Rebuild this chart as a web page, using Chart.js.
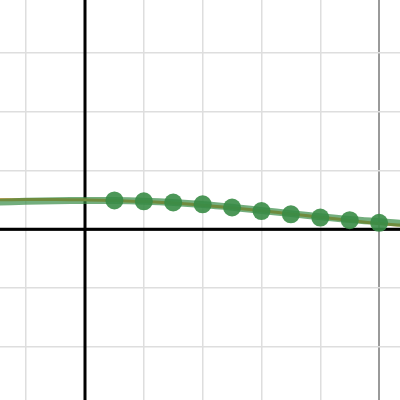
<!DOCTYPE html>
<html>
<head>
<meta charset="utf-8">
<script src="https://cdn.jsdelivr.net/npm/chart.js@4/dist/chart.umd.min.js"></script>
<style>
  html, body { margin: 0; padding: 0; background: #fff; }
  #wrap { width: 400px; height: 400px; position: relative; }
</style>
</head>
<body>
<div id="wrap"><canvas id="grafica"></canvas></div>
<script>
// Datos
const pointX = [0.5, 1, 1.5, 2, 2.5, 3, 3.5, 4, 4.5, 5]
const pointY = [0.49, 0.475, 0.455, 0.425, 0.37, 0.31, 0.255, 0.2, 0.155, 0.11]

const curveX = [-1.5, -1, -0.5, 0, 0.5, 1, 1.5, 2, 2.5, 3, 3.5, 4, 4.5, 5, 5.5]
const fitY   = [0.46, 0.476, 0.486, 0.49, 0.488, 0.476, 0.454, 0.42, 0.374, 0.32, 0.266, 0.214, 0.168, 0.13, 0.094]
const trueY  = [0.5, 0.505, 0.505, 0.5, 0.49, 0.47, 0.445, 0.41, 0.365, 0.315, 0.26, 0.205, 0.15, 0.1, 0.06]

const xRange = [-1.445, 5.355]
const yRange = [-2.9, 3.895]

const COLORS = {
  green:  'rgba(56, 140, 70, 0.7)',
  greenPt:'rgba(56, 140, 70, 0.9)',
  orange: '#f08a2c',
  grid:   '#dedede',
  mark5:  '#9a9a9a',
}

function pares(xs, ys) {
  return xs.map(function(x, i) { return { x: x, y: ys[i] } })
}

// ejes en negro encima de la cuadricula
const ejes = {
  id: 'ejes',
  beforeDatasetsDraw(chart) {
    const { ctx, chartArea: a, scales: { x, y } } = chart
    ctx.save()
    ctx.strokeStyle = '#000'
    ctx.lineWidth = 3
    ctx.beginPath()
    const px = x.getPixelForValue(0)
    const py = y.getPixelForValue(0)
    ctx.moveTo(px, a.top); ctx.lineTo(px, a.bottom)
    ctx.moveTo(a.left, py); ctx.lineTo(a.right, py)
    ctx.stroke()
    ctx.restore()
  }
}

function gridColor(ctx) {
  if (ctx.tick.value === 0) return '#000'
  if (ctx.tick.value === 5 && ctx.scale.axis === 'x') return COLORS.mark5
  return COLORS.grid
}

new Chart(document.getElementById('grafica'), {
  type: 'scatter',
  data: {
    datasets: [
      {
        data: pares(curveX, trueY),
        showLine: true,
        borderColor: COLORS.orange,
        borderWidth: 3,
        pointRadius: 0,
        tension: 0.4,
        order: 3,
      },
      {
        data: pares(curveX, fitY),
        showLine: true,
        borderColor: COLORS.green,
        borderWidth: 7,
        pointRadius: 0,
        tension: 0.4,
        order: 2,
      },
      {
        data: pares(pointX, pointY),
        backgroundColor: COLORS.greenPt,
        borderWidth: 0,
        pointRadius: 9,
        order: 1,
      },
    ]
  },
  options: {
    responsive: true,
    maintainAspectRatio: false,
    animation: false,
    layout: { padding: 0, autoPadding: false },
    plugins: { legend: { display: false }, tooltip: { enabled: false } },
    scales: {
      x: {
        type: 'linear',
        min: xRange[0], max: xRange[1],
        ticks: { display: false, stepSize: 1, includeBounds: false },
        border: { display: false },
        grid: {
          drawTicks: false,
          color: gridColor,
          lineWidth: function(ctx) { return ctx.tick.value === 5 ? 2 : 1.5 },
        }
      },
      y: {
        type: 'linear',
        min: yRange[0], max: yRange[1],
        ticks: { display: false, stepSize: 1, includeBounds: false },
        border: { display: false },
        grid: { drawTicks: false, color: gridColor, lineWidth: 1.5 }
      }
    }
  },
  plugins: [ejes]
})
</script>
</body>
</html>
